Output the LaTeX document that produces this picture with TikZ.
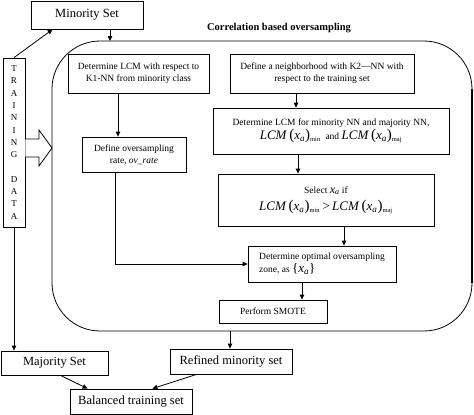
\documentclass[tikz,border=0pt]{standalone}
\usepackage{fontspec}
\setmainfont{Liberation Serif}
\usetikzlibrary{arrows.meta,calc}
\newcommand{\lcmx}[1]{{\fontsize{13}{14}\selectfont\textit{LCM}\,{\fontsize{15}{15}\selectfont(}\textit{x}\textsubscript{\textit{a}}{\fontsize{15}{15}\selectfont)}\textsubscript{\fontsize{6.5}{7}\selectfont #1}}}
\begin{document}
\begin{tikzpicture}[x=1pt,y=-1pt,
  box/.style={draw, line width=0.8pt, align=center, inner sep=2pt, font=\fontsize{9.5}{12}\selectfont},
  bigbox/.style={draw, line width=0.8pt, align=center, inner sep=2pt, font=\fontsize{12.5}{14}\selectfont},
  arr/.style={-{Triangle[length=5pt,width=4.5pt]}, line width=0.8pt}]
\useasboundingbox (0,0) rectangle (474,415);
% columns
\coordinate (xa) at (110,0);
\coordinate (xb) at (118,0);
\coordinate (xc) at (296,0);
\coordinate (xd) at (298,0);
\coordinate (xe) at (344,0);
\coordinate (xf) at (302,0);
\coordinate (xg) at (230,0);
\coordinate (xh) at (115,0);

\node[inner sep=0pt, outer sep=0pt, minimum width=420pt, minimum height=290pt] (corr) at (262,186) {};
\draw[line width=0.8pt, rounded corners=48pt] (corr.south west) rectangle (corr.north east);
\draw[line width=2.5pt] ([yshift=-48pt]corr.north east) -- ([yshift=48pt]corr.south east);
\node[font=\bfseries\fontsize{10.5}{12}\selectfont] (title) at (279,28) {Correlation based oversampling};

\node[bigbox, minimum width=112pt, minimum height=28pt] (minority) at (87,15) {Minority Set};
\node[draw, line width=0.8pt, minimum width=22pt, minimum height=169pt, inner sep=0pt, align=center, font=\fontsize{9}{12.3}\selectfont] (training) at (14,142.5) {T\\R\\A\\I\\N\\I\\N\\G\\[12.3pt]D\\A\\T\\A};

\node[box, minimum width=141pt, minimum height=39pt] (b1) at (138.5,73.5) {Determine LCM with respect to\\K1-NN from minority class};
\node[box, minimum width=104pt, minimum height=35pt] (b2) at (134,154.5) {Define oversampling\\rate, \textit{ov\_rate}};
\node[box, minimum width=184pt, minimum height=39pt] (b3) at (322,73.5) {Define a neighborhood with K2---NN with\\respect to the training set};
\node[box, minimum width=236pt, minimum height=46pt] (b4) at (331,131) {Determine LCM for minority NN and majority NN,\\[1pt]\lcmx{min}\ \ and \lcmx{maj}};
\node[box, minimum width=216pt, minimum height=52pt] (b5) at (326,200) {Select {\fontsize{12}{12}\selectfont\textit{x}\textsubscript{\textit{a}}} if\\[4pt]\lcmx{min} {\fontsize{13}{14}\selectfont >} \lcmx{maj}};
\node[box, align=left, minimum width=148pt, minimum height=36pt] (b6) at (322,264) {Determine optimal oversampling\\[1pt]zone, as {\fontsize{13}{13}\selectfont\{\textit{x}\textsubscript{\textit{a}}\}}};
\node[box, minimum width=108pt, minimum height=23pt] (b7) at (273,311.5) {Perform SMOTE};

\node[bigbox, minimum width=122pt, minimum height=25pt] (refined) at (231,361.5) {Refined minority set};
\node[bigbox, minimum width=107pt, minimum height=24pt] (majority) at (54.5,363) {Majority Set};
\node[bigbox, minimum width=122pt, minimum height=25pt] (balanced) at (131,401.5) {Balanced training set};

% hollow arrow
\draw[line width=0.8pt, fill=white] (training.east |- 0,139) -- (39,139) -- (39,130) -- (corr.west |- 0,148) -- (39,166) -- (39,157) -- (training.east |- 0,157);

\draw[arr] (training.north) -- ($(minority.south west)+(22,0)$);
\draw[arr] (minority.south -| xa) -- (corr.north -| xa);
\draw[arr] (b1.south -| xb) -- (b2.north -| xb);
\draw[arr] (b3.south -| xc) -- (b4.north -| xc);
\draw[arr] (b4.south -| xd) -- (b5.north -| xd);
\draw[arr] (b5.south -| xe) -- (b6.north -| xe);
\draw[arr] (b6.south -| xf) -- (b7.north -| xf);
\draw[arr] (b2.south -| xh) |- (b6.west);
\draw[arr] (corr.south -| xg) -- (refined.north -| xg);
\draw[arr] (training.south) -- (training.south |- majority.north);
\draw[arr] ($(majority.south)+(6,0)$) -- ($(balanced.north west)+(18,0)$);
\draw[arr] ($(refined.south west)+(27,0)$) -- ($(balanced.north east)+(-40,0)$);
\end{tikzpicture}
\end{document}
